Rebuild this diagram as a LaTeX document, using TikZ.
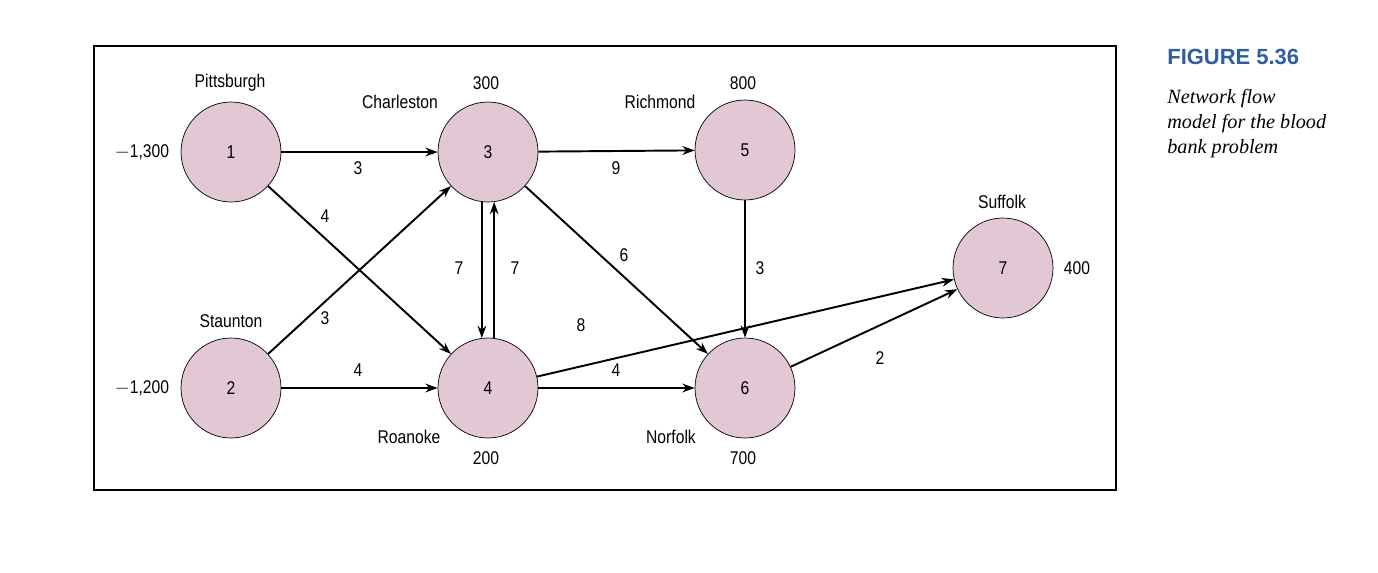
\documentclass[tikz,border=0pt]{standalone}
\usepackage{fontspec}
\setmainfont{Liberation Sans}[FakeStretch=0.85]
\newfontfamily\capserif{Liberation Serif}
\newfontfamily\capsans{Liberation Sans}
\usetikzlibrary{arrows.meta}
\definecolor{nodepink}{HTML}{E2C7D5}
\definecolor{figblue}{HTML}{2D5E9E}
\begin{document}
\begin{tikzpicture}[x=0.02cm,y=-0.02cm,
  city/.style={circle,draw,fill=nodepink,minimum size=2cm,inner sep=0pt,font=\fontsize{10.5}{12}\selectfont},
  lbl/.style={font=\fontsize{10.5}{12}\selectfont,inner sep=1pt},
  arr/.style={-{Stealth[length=7pt,width=5pt]},line width=1.1pt}]
\useasboundingbox (0,0) rectangle (1378,572);
\draw[line width=0.6pt] (94,46) rectangle (1116,490);
\node[city] (n1) at (231,152) {1};
\node[city] (n2) at (231,388) {2};
\node[city] (n3) at (488,152) {3};
\node[city] (n4) at (488,388) {4};
\node[city] (n5) at (745,150) {5};
\node[city] (n6) at (745,388) {6};
\node[city] (n7) at (1003,268) {7};
\node[lbl] (t1) at (230,83) {Pittsburgh};
\node[lbl] (s1) at (142,152) {$-$1,300};
\node[lbl] (t2) at (231,321) {Staunton};
\node[lbl] (s2) at (142,388) {$-$1,200};
\node[lbl] (t3) at (400,102) {Charleston};
\node[lbl] (s3) at (486,83) {300};
\node[lbl] (t4) at (409,437) {Roanoke};
\node[lbl] (s4) at (486,458) {200};
\node[lbl] (t5) at (660,102) {Richmond};
\node[lbl] (s5) at (743,83) {800};
\node[lbl] (t6) at (671,437) {Norfolk};
\node[lbl] (s6) at (743,458) {700};
\node[lbl] (t7) at (1002,202) {Suffolk};
\node[lbl] (s7) at (1077,268) {400};
\draw[arr] (n1) -- (n3);
\draw[arr] (n1) -- (n4);
\draw[arr] (n2) -- (n3);
\draw[arr] (n2) -- (n4);
\draw[arr] (n3.270-7) -- (n4.90+7);
\draw[arr] (n4.90-7) -- (n3.270+7);
\draw[arr] (n3) -- (n5);
\draw[arr] (n3) -- (n6);
\draw[arr] (n5) -- (n6);
\draw[arr] (n4) -- (n6);
\draw[arr] (n4) -- (n7);
\draw[arr] (n6) -- (n7);
\node[lbl] (e13) at (358,168) {3};
\node[lbl] (e14) at (325,216) {4};
\node[lbl] (e23) at (325,318) {3};
\node[lbl] (e24) at (358,370) {4};
\node[lbl] (e34) at (459,268) {7};
\node[lbl] (e43) at (515,268) {7};
\node[lbl] (e35) at (616,168) {9};
\node[lbl] (e36) at (624,255) {6};
\node[lbl] (e56) at (760,268) {3};
\node[lbl] (e47) at (581,325) {8};
\node[lbl] (e46) at (616,370) {4};
\node[lbl] (e67) at (880,358) {2};
\node[anchor=west,inner sep=0pt,text=figblue,font=\capsans\bfseries\fontsize{12.5}{14}\selectfont] (fig) at (1167,57) {FIGURE 5.36};
\node[anchor=north west,inner sep=0pt,align=left,font=\capserif\itshape\fontsize{11.5}{14.3}\selectfont] (cap) at (1167,89) {Network flow\\model for the blood\\bank problem};
\end{tikzpicture}
\end{document}
